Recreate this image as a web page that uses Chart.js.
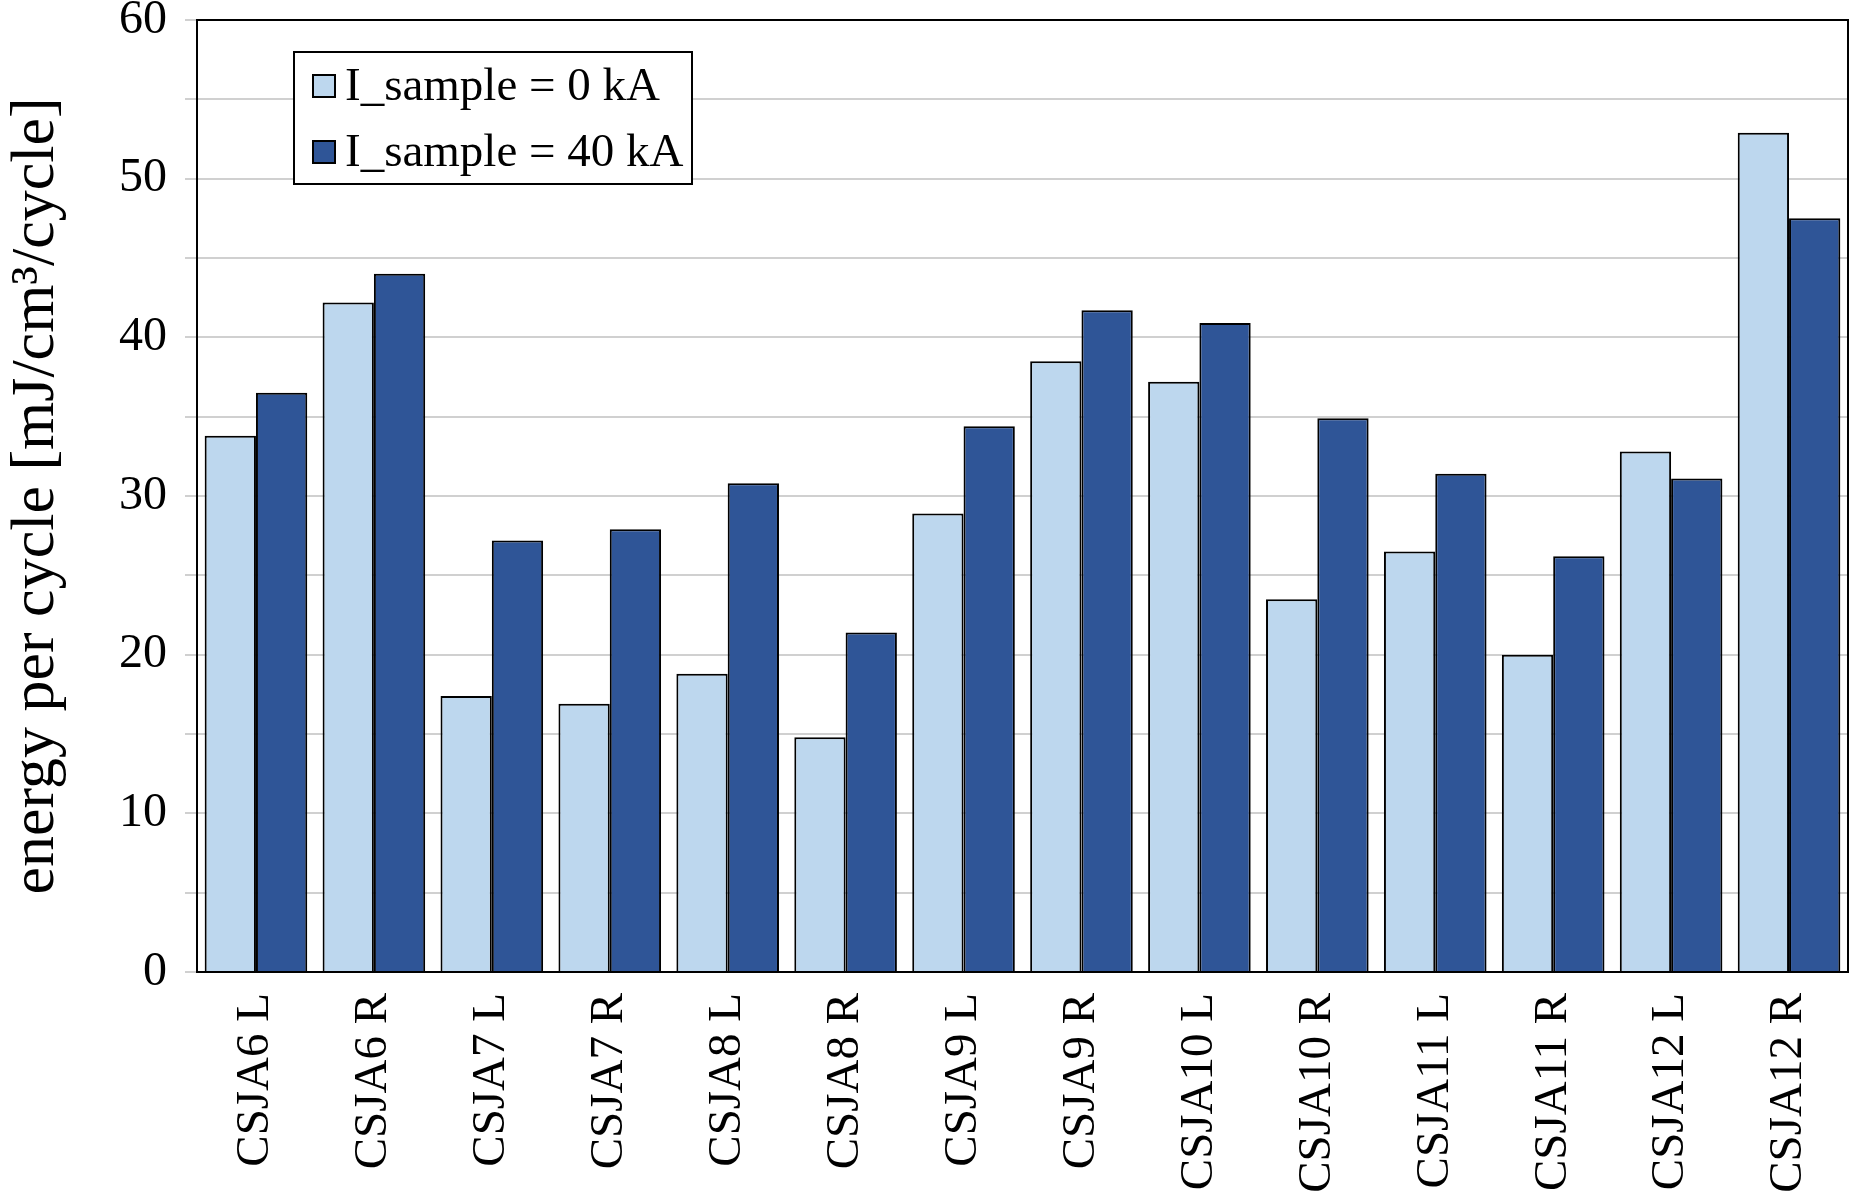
<!DOCTYPE html>
<html>
<head>
<meta charset="utf-8">
<script src="https://cdn.jsdelivr.net/npm/chart.js@4.4.0/dist/chart.umd.min.js"></script>
<style>
  html, body { margin: 0; padding: 0; background: #fff; }
  #wrap { width: 1851px; height: 1195px; }
</style>
</head>
<body>
<div id="wrap"><canvas id="energyChart" width="1851" height="1195"></canvas></div>
<script>
// samples along the x axis
const samples = ['CSJA6 L', 'CSJA6 R', 'CSJA7 L', 'CSJA7 R', 'CSJA8 L', 'CSJA8 R', 'CSJA9 L',
  'CSJA9 R', 'CSJA10 L', 'CSJA10 R', 'CSJA11 L', 'CSJA11 R', 'CSJA12 L', 'CSJA12 R'];

// energy per cycle [mJ/cm3/cycle]
const energy0kA = [33.8, 42.2, 17.4, 16.9, 18.8, 14.8, 28.9, 38.5, 37.2, 23.5, 26.5, 20.0, 32.8, 52.9];
const energy40kA = [36.5, 44.0, 27.2, 27.9, 30.8, 21.4, 34.4, 41.7, 40.9, 34.9, 31.4, 26.2, 31.1, 47.5];

const seriesLabels = ['I_sample = 0 kA', 'I_sample = 40 kA'];
const seriesColors = ['#BDD7EE', '#2F5597'];

const yMin = 0, yMax = 60, yStep = 5;

const serif = "'Liberation Serif', 'DejaVu Serif', serif";

// box round the plot and the legend inside it
const framePlugin = {
  id: 'frame',
  afterDraw(chart) {
    const ctx = chart.ctx;
    const area = chart.chartArea;
    ctx.save();
    ctx.strokeStyle = '#000';
    ctx.lineWidth = 2;
    ctx.strokeRect(area.left, area.top, area.right - area.left, area.bottom - area.top);

    // legend
    const bx = 294, by = 52, bw = 398, bh = 132;
    ctx.fillStyle = '#fff';
    ctx.fillRect(bx, by, bw, bh);
    ctx.strokeRect(bx, by, bw, bh);
    ctx.font = '47px ' + serif;
    ctx.textBaseline = 'middle';
    ctx.textAlign = 'left';
    chart.data.datasets.forEach((ds, i) => {
      const cy = by + 34 + i * 66;
      ctx.fillStyle = ds.backgroundColor;
      ctx.fillRect(bx + 19, cy - 11, 22, 22);
      ctx.strokeRect(bx + 19, cy - 11, 22, 22);
      ctx.fillStyle = '#000';
      ctx.fillText(ds.label, bx + 51, cy + 2);
    });
    ctx.restore();
  }
};

new Chart(document.getElementById('energyChart').getContext('2d'), {
  type: 'bar',
  data: {
    labels: samples,
    datasets: [
      {
        label: seriesLabels[0],
        data: energy0kA,
        backgroundColor: seriesColors[0],
        borderColor: '#000',
        borderWidth: 2
      },
      {
        label: seriesLabels[1],
        data: energy40kA,
        backgroundColor: seriesColors[1],
        borderColor: '#000',
        borderWidth: 2
      }
    ]
  },
  options: {
    responsive: false,
    animation: false,
    devicePixelRatio: 1,
    layout: { padding: { top: 20, right: 3, left: 0, bottom: 0 } },
    datasets: {
      bar: { categoryPercentage: 0.87, barPercentage: 1.0 }
    },
    plugins: {
      legend: { display: false },
      tooltip: { enabled: false }
    },
    scales: {
      x: {
        grid: { display: false, drawTicks: false },
        border: { color: '#000', width: 2 },
        ticks: {
          color: '#000',
          font: { family: serif, size: 47 },
          minRotation: 90,
          maxRotation: 90,
          padding: 21,
          autoSkip: false
        },
        afterFit(scale) {
          scale.height = 223;
          scale.paddingLeft = 0;
          scale.paddingRight = 0;
        }
      },
      y: {
        min: yMin,
        max: yMax,
        grid: { color: '#d0d0d0', lineWidth: 2, tickLength: 12 },
        border: { color: '#000', width: 2 },
        ticks: {
          stepSize: yStep,
          color: '#000',
          font: { family: serif, size: 48 },
          padding: 18,
          callback: v => (v % 10 === 0 ? v : '')
        },
        title: {
          display: true,
          text: 'energy per cycle [mJ/cm\u00B3/cycle]',
          color: '#000',
          font: { family: serif, size: 62 },
          padding: { top: 0, bottom: 0 }
        },
        afterFit(scale) {
          scale.width = 197;
          scale.paddingTop = 0;
          scale.paddingBottom = 0;
        }
      }
    }
  },
  plugins: [framePlugin]
});
</script>
</body>
</html>
